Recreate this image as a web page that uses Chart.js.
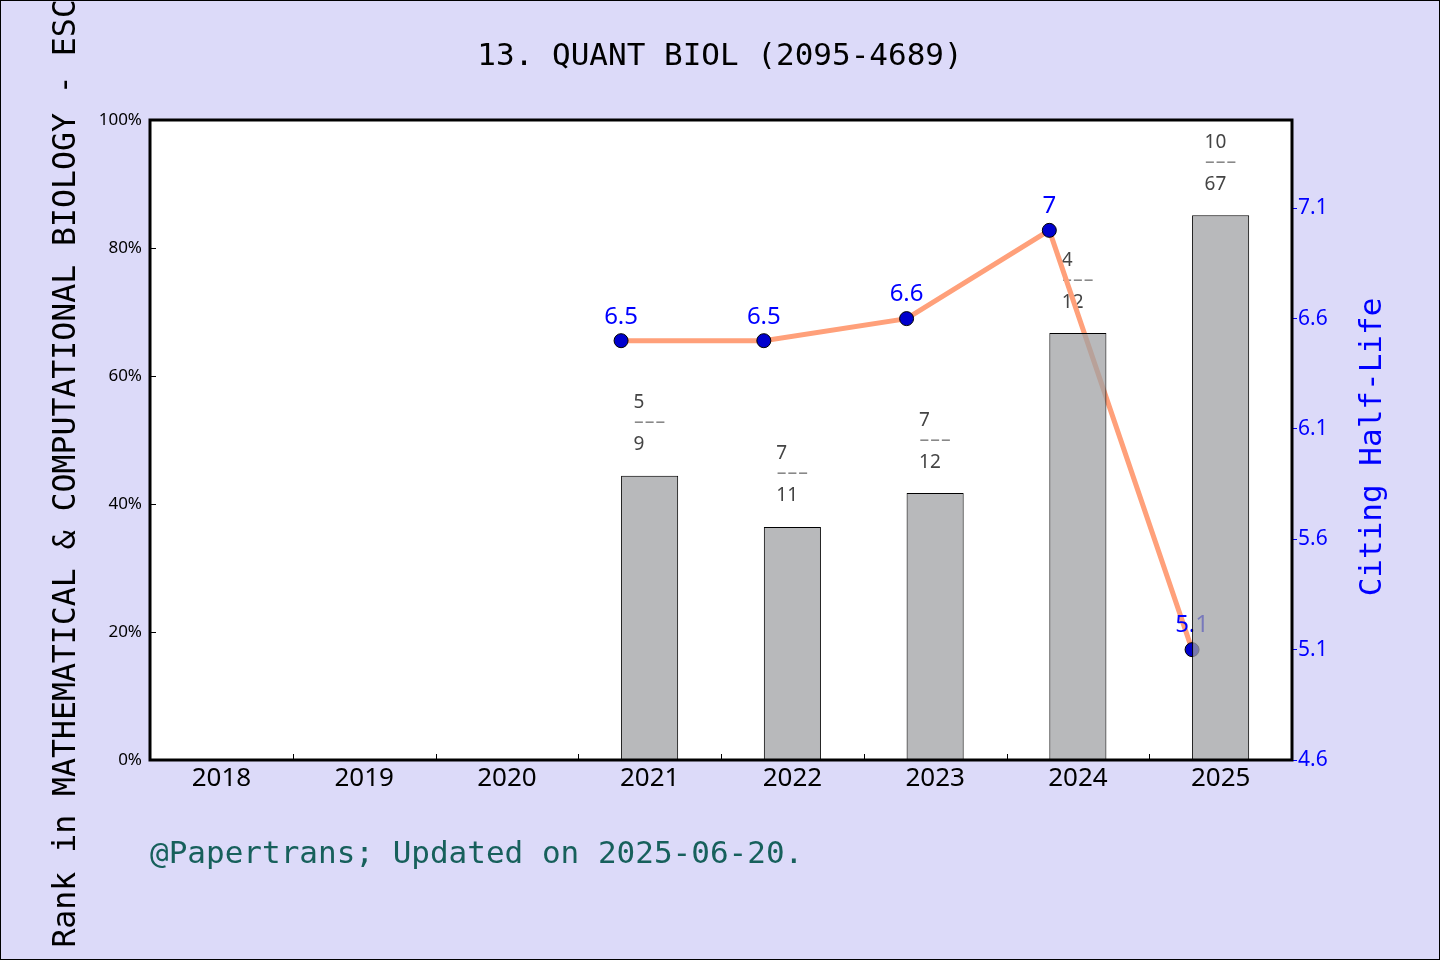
<!DOCTYPE html>
<html>
<head>
<meta charset="utf-8">
<script src="https://cdn.jsdelivr.net/npm/chart.js@4/dist/chart.umd.min.js"></script>
<style>
  html, body { margin: 0; padding: 0; background: #dcdaf9; }
  canvas { display: block; }
</style>
</head>
<body>
<canvas id="chart" width="1440" height="960" style="width:1440px;height:960px"></canvas>
<script>
// categories and values
var years = ['2018', '2019', '2020', '2021', '2022', '2023', '2024', '2025'];
var rankPct = [null, null, null, 44.4, 36.4, 41.7, 66.7, 85.1];
var ranks = [null, null, null, 5, 7, 7, 4, 10];
var totals = [null, null, null, 9, 11, 12, 12, 67];

var halfLifeYears = [2021, 2022, 2023, 2024, 2025];
var halfLife = [6.5, 6.5, 6.6, 7, 5.1];

var pctTicks = [0, 20, 40, 60, 80, 100];
var halfLifeTicks = [4.6, 5.1, 5.6, 6.1, 6.6, 7.1];

var chartTitle = '13. QUANT BIOL (2095-4689)';
var leftTitle = 'Rank in MATHEMATICAL & COMPUTATIONAL BIOLOGY - ESCI';
var rightTitle = 'Citing Half-Life';
var footerText = '@Papertrans; Updated on 2025-06-20.';

var mono = '"DejaVu Sans Mono", "Liberation Mono", monospace';
var sans = '"Noto Sans", "DejaVu Sans", sans-serif';

var linePoints = halfLifeYears.map(function(y, i) { return { x: y, y: halfLife[i] }; });

// background, frame, texts and inward ticks
var decor = {
    id: 'decor',
    beforeDraw: function(chart) {
        var ctx = chart.ctx, a = chart.chartArea;
        ctx.save();
        ctx.fillStyle = '#dcdaf9';
        ctx.fillRect(0, 0, chart.width, chart.height);
        ctx.strokeStyle = '#000';
        ctx.lineWidth = 1;
        ctx.strokeRect(0.5, 0.5, chart.width - 1, chart.height - 1);
        ctx.fillStyle = '#ffffff';
        ctx.fillRect(a.left, a.top, a.right - a.left, a.bottom - a.top);

        ctx.fillStyle = '#000';
        ctx.font = '31px ' + mono;
        ctx.textAlign = 'center';
        ctx.textBaseline = 'middle';
        ctx.fillText(chartTitle, chart.width / 2, 57);

        ctx.fillStyle = '#17605c';
        ctx.textAlign = 'left';
        ctx.fillText(footerText, a.left, 855);

        // left axis title
        ctx.save();
        ctx.translate(67, 464);
        ctx.rotate(-Math.PI / 2);
        ctx.textAlign = 'center';
        ctx.fillStyle = '#000';
        ctx.font = '31.5px ' + mono;
        ctx.fillText(leftTitle, 0, 0);
        ctx.restore();

        // right axis title
        ctx.save();
        ctx.translate(1373, 447);
        ctx.rotate(-Math.PI / 2);
        ctx.textAlign = 'center';
        ctx.fillStyle = '#0000ff';
        ctx.font = '31px ' + mono;
        ctx.fillText(rightTitle, 0, 0);
        ctx.restore();
        ctx.restore();
    },
    beforeDatasetsDraw: function(chart) {
        // fraction labels above the bars
        var ctx = chart.ctx;
        var meta = chart.getDatasetMeta(0);
        ctx.save();
        ctx.font = '19px ' + sans;
        ctx.textAlign = 'left';
        ctx.textBaseline = 'middle';
        var dashW = ctx.measureText('---').width * 1.75;
        meta.data.forEach(function(bar, i) {
            if (rankPct[i] == null) return;
            var x0 = bar.x - dashW / 2;
            ctx.fillStyle = '#444';
            ctx.fillText(String(ranks[i]), x0, bar.y - 73);
            ctx.fillText(String(totals[i]), x0, bar.y - 31);
            ctx.save();
            ctx.translate(x0, bar.y - 53);
            ctx.scale(1.75, 1);
            ctx.fillStyle = '#888';
            ctx.fillText('---', 0, 0);
            ctx.restore();
        });
        ctx.restore();
    },
    afterDatasetDraw: function(chart, args) {
        // value labels of the line, drawn before the bars cover them
        if (args.index !== 1) return;
        var ctx = chart.ctx;
        ctx.save();
        ctx.font = '24px ' + sans;
        ctx.fillStyle = '#0000ff';
        ctx.textAlign = 'center';
        ctx.textBaseline = 'middle';
        args.meta.data.forEach(function(pt, i) {
            ctx.fillText(String(halfLife[i]), pt.x, pt.y - 24);
        });
        ctx.restore();
    },
    afterDatasetsDraw: function(chart) {
        var ctx = chart.ctx, a = chart.chartArea;
        var xs = chart.scales.x, ys = chart.scales.y;
        ctx.save();
        ctx.strokeStyle = '#000';
        ctx.lineWidth = 1;
        ctx.beginPath();
        for (var i = 0; i < years.length - 1; i++) {
            var px = Math.round((xs.getPixelForTick(i) + xs.getPixelForTick(i + 1)) / 2) + 0.5;
            ctx.moveTo(px, a.bottom);
            ctx.lineTo(px, a.bottom - 6);
        }
        pctTicks.forEach(function(v) {
            var py = Math.round(ys.getPixelForValue(v)) + 0.5;
            ctx.moveTo(a.left, py);
            ctx.lineTo(a.left + 6, py);
        });
        ctx.stroke();
        ctx.lineWidth = 3;
        ctx.strokeRect(a.left, a.top, a.right - a.left, a.bottom - a.top);
        ctx.restore();
    }
};

var ctx = document.getElementById('chart').getContext('2d');

var myChart = new Chart(ctx, {
    type: 'bar',
    data: {
        labels: years,
        datasets: [{
            type: 'bar',
            label: 'Rank',
            data: rankPct,
            xAxisID: 'x',
            yAxisID: 'y',
            backgroundColor: 'rgba(160, 161, 164, 0.75)',
            borderColor: '#000',
            borderWidth: 1,
            grouped: false,
            categoryPercentage: 1,
            barPercentage: 0.4,
            order: 1
        }, {
            type: 'line',
            label: 'Citing Half-Life',
            data: linePoints,
            xAxisID: 'xl',
            yAxisID: 'y2',
            borderColor: '#ffa07a',
            borderWidth: 5,
            pointRadius: 7,
            pointBackgroundColor: '#0000cd',
            pointBorderColor: '#000',
            pointBorderWidth: 1,
            tension: 0,
            fill: false,
            order: 2
        }]
    },
    options: {
        responsive: false,
        devicePixelRatio: 1,
        animation: false,
        layout: {
            padding: { top: 120, bottom: 160, left: 70, right: 68 }
        },
        plugins: {
            legend: { display: false },
            title: { display: false },
            tooltip: { enabled: false }
        },
        scales: {
            x: {
                type: 'category',
                offset: true,
                grid: { display: false },
                border: { display: false },
                ticks: {
                    color: '#000',
                    font: { family: sans, size: 26 },
                    padding: -5,
                    maxRotation: 0
                },
                afterFit: function(s) { s.height = 40; }
            },
            xl: {
                type: 'linear',
                display: false,
                offset: false,
                min: 2017.7,
                max: 2025.7
            },
            y: {
                position: 'left',
                min: 0,
                max: 100,
                grid: { display: false },
                border: { display: false },
                ticks: {
                    color: '#000',
                    font: { family: sans, size: 17 },
                    padding: 0,
                    callback: function(v) { return v + '%'; }
                },
                afterBuildTicks: function(s) {
                    s.ticks = pctTicks.map(function(v) { return { value: v }; });
                },
                afterFit: function(s) { s.width = 80; }
            },
            y2: {
                position: 'right',
                min: 4.6,
                max: 7.5,
                grid: {
                    drawOnChartArea: false,
                    drawTicks: true,
                    tickLength: 5,
                    color: '#0000ff'
                },
                border: { display: false },
                ticks: {
                    color: '#0000ff',
                    font: { family: sans, size: 21 },
                    padding: 1,
                    callback: function(v) { return v.toFixed(1); }
                },
                afterBuildTicks: function(s) {
                    s.ticks = halfLifeTicks.map(function(v) { return { value: v }; });
                },
                afterFit: function(s) { s.width = 80; }
            }
        }
    },
    plugins: [decor]
});
</script>
</body>
</html>
